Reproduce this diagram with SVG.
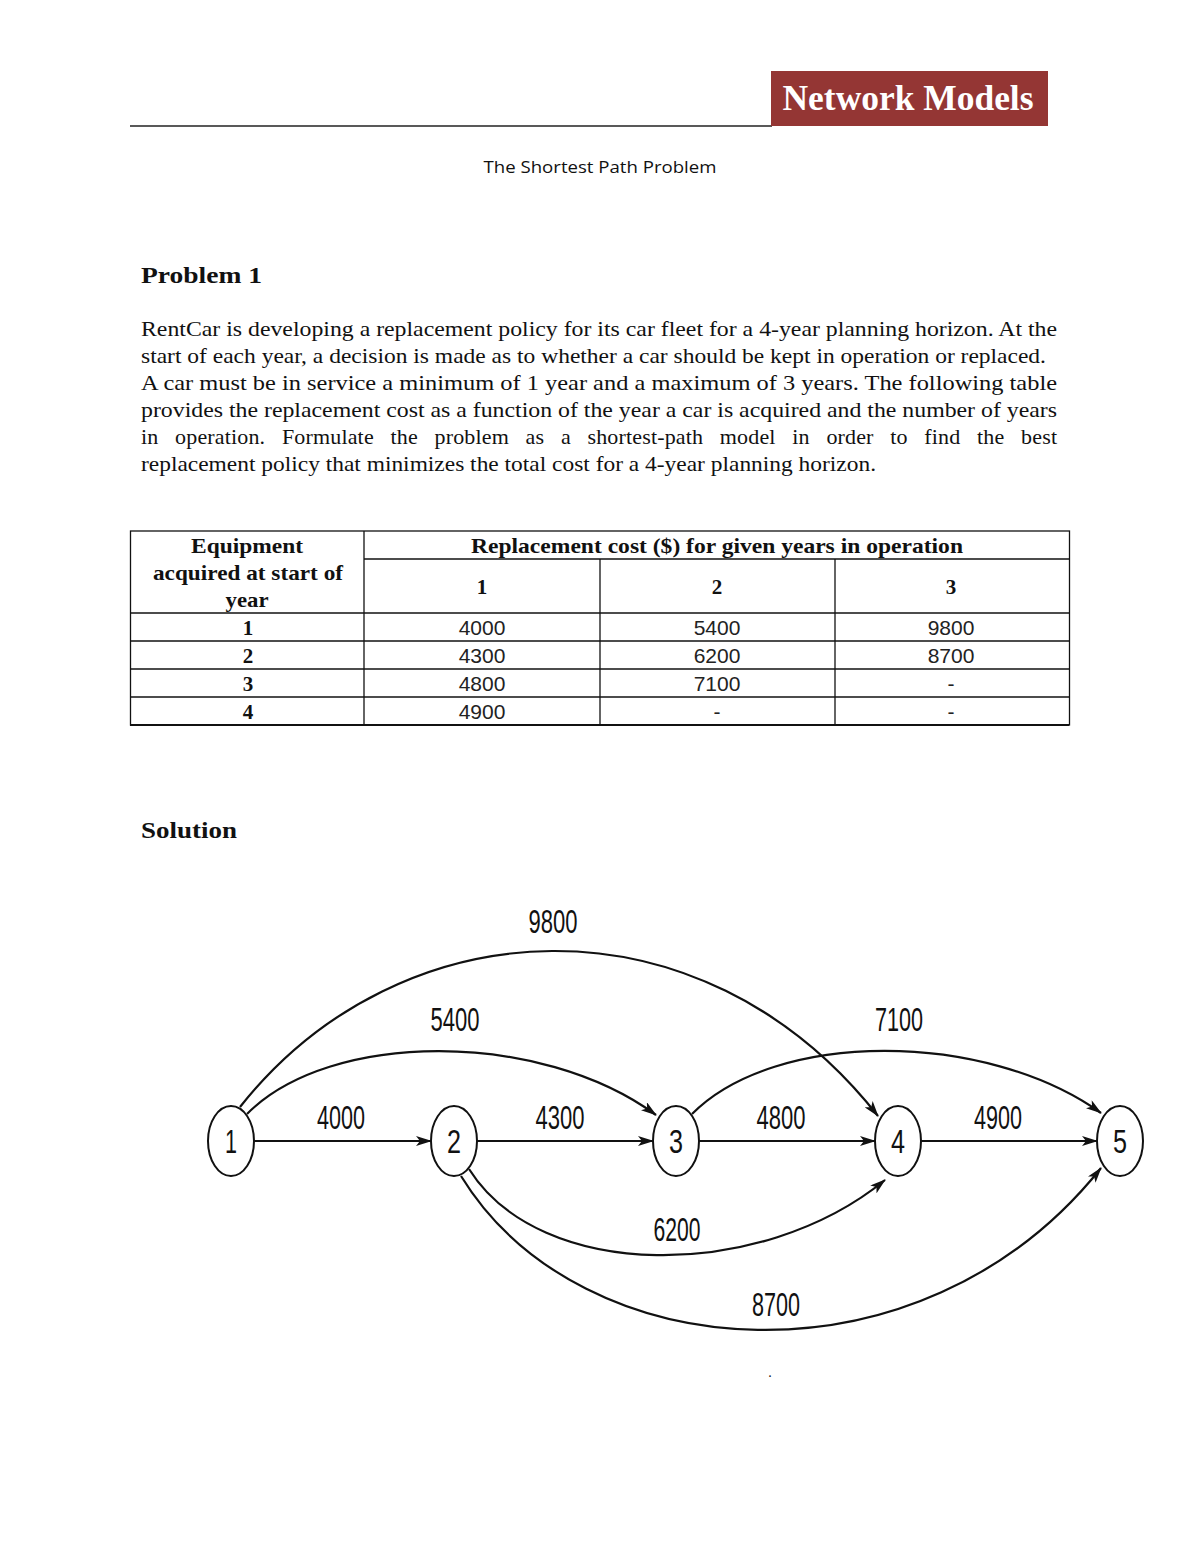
<svg xmlns="http://www.w3.org/2000/svg" width="1200" height="1553" viewBox="0 0 1200 1553">
<defs>
<marker id="arr" viewBox="0 0 16 10" refX="15" refY="5" markerWidth="16" markerHeight="10" markerUnits="userSpaceOnUse" orient="auto">
<path d="M0,0 L16,5 L0,10 L4,5 Z" fill="#111"/>
</marker>
<style>
.serif{font-family:"Liberation Serif","Times New Roman",serif;fill:#111}
.b{font-weight:bold}
.sans{font-family:"Liberation Sans",Arial,sans-serif;fill:#222}
.lbl{font-family:"Liberation Sans",Arial,sans-serif;fill:#111;font-size:34px;text-anchor:middle}
.grid{stroke:#111;stroke-width:1.3;fill:none}
.edge{stroke:#111;stroke-width:2.2;fill:none;marker-end:url(#arr)}
.node{fill:#fff;stroke:#111;stroke-width:2}
</style>
</defs>
<rect width="1200" height="1553" fill="#fff"/>

<!-- header -->
<line x1="130" y1="126" x2="772" y2="126" stroke="#222" stroke-width="1.5"/>
<rect x="771" y="71" width="277" height="55" fill="#943634"/>
<text x="908" y="110" class="serif b" font-size="35" style="fill:#fff" text-anchor="middle" textLength="251" lengthAdjust="spacingAndGlyphs">Network Models</text>
<text x="600" y="173" font-family="'Open Sans','Liberation Sans',sans-serif" font-size="17" fill="#111" text-anchor="middle" textLength="233" lengthAdjust="spacingAndGlyphs">The Shortest Path Problem</text>

<!-- problem text -->
<text x="141" y="283" class="serif b" font-size="24" textLength="121" lengthAdjust="spacingAndGlyphs">Problem 1</text>
<g class="serif" font-size="22">
<text x="141" y="336" textLength="916" lengthAdjust="spacingAndGlyphs">RentCar is developing a replacement policy for its car fleet for a 4-year planning horizon. At the</text>
<text x="141" y="363" textLength="905" lengthAdjust="spacingAndGlyphs">start of each year, a decision is made as to whether a car should be kept in operation or replaced.</text>
<text x="141" y="390" textLength="916" lengthAdjust="spacingAndGlyphs">A car must be in service a minimum of 1 year and a maximum of 3 years. The following table</text>
<text x="141" y="417" textLength="916" lengthAdjust="spacingAndGlyphs">provides the replacement cost as a function of the year a car is acquired and the number of years</text>
<text x="141" y="444" word-spacing="11" textLength="916" lengthAdjust="spacing">in operation. Formulate the problem as a shortest-path model in order to find the best</text>
<text x="141" y="471" textLength="735" lengthAdjust="spacingAndGlyphs">replacement policy that minimizes the total cost for a 4-year planning horizon.</text>
</g>

<!-- table -->
<g id="table">
<rect x="130.5" y="531" width="939" height="194" class="grid"/>
<line x1="364" y1="559" x2="1069" y2="559" class="grid"/>
<line x1="130" y1="613" x2="1069" y2="613" class="grid"/>
<line x1="130" y1="641" x2="1069" y2="641" class="grid"/>
<line x1="130" y1="669" x2="1069" y2="669" class="grid"/>
<line x1="130" y1="697" x2="1069" y2="697" class="grid"/>
<line x1="130" y1="725" x2="1069" y2="725" stroke="#111" stroke-width="2"/>
<line x1="364" y1="531" x2="364" y2="725" class="grid"/>
<line x1="600" y1="559" x2="600" y2="725" class="grid"/>
<line x1="835" y1="559" x2="835" y2="725" class="grid"/>
<g class="serif b" font-size="21" text-anchor="middle">
<text x="247" y="553" textLength="112" lengthAdjust="spacingAndGlyphs">Equipment</text>
<text x="248" y="580" textLength="190" lengthAdjust="spacingAndGlyphs">acquired at start of</text>
<text x="247" y="607" textLength="43" lengthAdjust="spacingAndGlyphs">year</text>
<text x="717" y="553" textLength="492" lengthAdjust="spacingAndGlyphs">Replacement cost ($) for given years in operation</text>
<text x="482" y="594">1</text>
<text x="717" y="594">2</text>
<text x="951" y="594">3</text>
<text x="248" y="635">1</text>
<text x="248" y="663">2</text>
<text x="248" y="691">3</text>
<text x="248" y="719">4</text>
</g>
<g class="sans" font-size="21" text-anchor="middle">
<text x="482" y="635">4000</text><text x="717" y="635">5400</text><text x="951" y="635">9800</text>
<text x="482" y="663">4300</text><text x="717" y="663">6200</text><text x="951" y="663">8700</text>
<text x="482" y="691">4800</text><text x="717" y="691">7100</text><text x="951" y="691">-</text>
<text x="482" y="719">4900</text><text x="717" y="719">-</text><text x="951" y="719">-</text>
</g>
</g>

<text x="141" y="838" class="serif b" font-size="24" textLength="96" lengthAdjust="spacingAndGlyphs">Solution</text>

<!-- connectors -->
<g id="connectors">
<path class="edge" d="M254,1141 L431,1141"/>
<path class="edge" d="M477,1141 L653,1141"/>
<path class="edge" d="M699,1141 L875,1141"/>
<path class="edge" d="M921,1141 L1097,1141"/>
<path class="edge" d="M247,1114 C330,1030 540,1030 656,1115"/>
<path class="edge" d="M240,1107 C400,905 700,890 878,1116"/>
<path class="edge" d="M692,1114 C775,1030 985,1030 1101,1113"/>
<path class="edge" d="M469,1169 C540,1282 760,1282 885,1180"/>
<path class="edge" d="M461,1176 C580,1370 920,1395 1101,1168"/>
<g>
<text class="lbl" x="553" y="933" textLength="49" lengthAdjust="spacingAndGlyphs">9800</text>
<text class="lbl" x="455" y="1031" textLength="49" lengthAdjust="spacingAndGlyphs">5400</text>
<text class="lbl" x="899" y="1031" textLength="48" lengthAdjust="spacingAndGlyphs">7100</text>
<text class="lbl" x="341" y="1129" textLength="48" lengthAdjust="spacingAndGlyphs">4000</text>
<text class="lbl" x="560" y="1129" textLength="49" lengthAdjust="spacingAndGlyphs">4300</text>
<text class="lbl" x="781" y="1129" textLength="49" lengthAdjust="spacingAndGlyphs">4800</text>
<text class="lbl" x="998" y="1129" textLength="48" lengthAdjust="spacingAndGlyphs">4900</text>
<text class="lbl" x="677" y="1241" textLength="47" lengthAdjust="spacingAndGlyphs">6200</text>
<text class="lbl" x="776" y="1316" textLength="48" lengthAdjust="spacingAndGlyphs">8700</text>
</g>
</g>

<!-- nodes -->
<g id="n1"><ellipse class="node" cx="231" cy="1141" rx="23" ry="35"/><text class="lbl" x="231" y="1153" textLength="12" lengthAdjust="spacingAndGlyphs">1</text></g>
<g id="n2"><ellipse class="node" cx="454" cy="1141" rx="23" ry="35"/><text class="lbl" x="454" y="1153" textLength="14" lengthAdjust="spacingAndGlyphs">2</text></g>
<g id="n3"><ellipse class="node" cx="676" cy="1141" rx="23" ry="35"/><text class="lbl" x="676" y="1153" textLength="14" lengthAdjust="spacingAndGlyphs">3</text></g>
<g id="n4"><ellipse class="node" cx="898" cy="1141" rx="23" ry="35"/><text class="lbl" x="898" y="1153" textLength="14" lengthAdjust="spacingAndGlyphs">4</text></g>
<g id="n5"><ellipse class="node" cx="1120" cy="1141" rx="23" ry="35"/><text class="lbl" x="1120" y="1153" textLength="14" lengthAdjust="spacingAndGlyphs">5</text></g>

<text x="770" y="1377" class="serif" font-size="14" text-anchor="middle">.</text>
</svg>
